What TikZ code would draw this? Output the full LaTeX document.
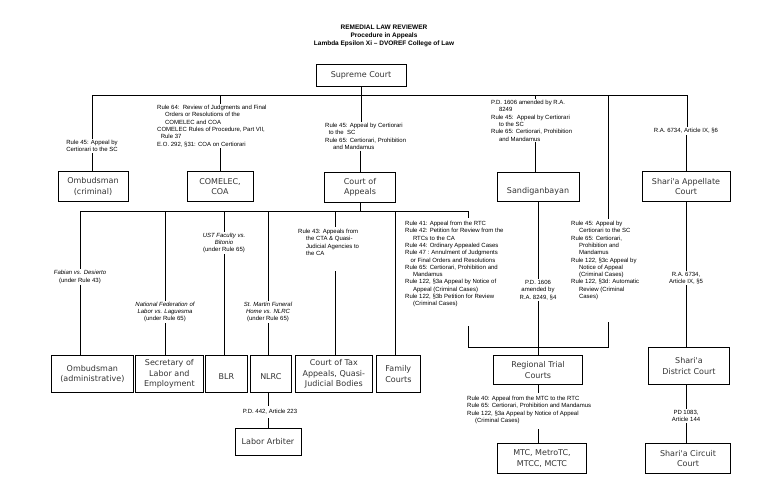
\documentclass[tikz,border=0pt]{standalone}
\usepackage{fontspec}
\setmainfont{Liberation Sans}
\newfontfamily\boxfont{DejaVu Sans}
\begin{document}
\begin{tikzpicture}[x=1pt,y=-1pt,
 box/.style={draw,line width=0.7pt,align=center,font=\boxfont\fontsize{8}{10.5}\selectfont,text=black!80,inner sep=2pt,anchor=north},
 lab/.style={align=center,font=\fontsize{6}{7.3}\selectfont,inner sep=1pt},
 labl/.style={align=left,font=\fontsize{6}{7.3}\selectfont,inner sep=1pt},
 ln/.style={line width=0.7pt}]
\useasboundingbox (0,0) rectangle (768,503);
\node[font=\bfseries\fontsize{6.5}{8}\selectfont,align=center] (title) at (384,36) {REMEDIAL LAW REVIEWER\\Procedure in Appeals\\\textsc{Lambda Epsilon Xi -- DVOREF College of Law}};
% boxes
\node[box,minimum width=90,minimum height=22] (sc) at (361,64) {Supreme Court};
\node[box,minimum width=70,minimum height=30] (omc) at (93,171) {Ombudsman\\(criminal)};
\node[box,minimum width=66,minimum height=30] (com) at (220,171) {COMELEC,\\COA};
\node[box,minimum width=71,minimum height=30] (ca) at (360,172) {Court of\\Appeals};
\node[box,minimum width=82,minimum height=29,text height=14] (sb) at (538,172) {Sandiganbayan};
\node[box,minimum width=88,minimum height=30] (sac) at (686,171) {Shari'a Appellate\\Court};
\node[box,minimum width=82,minimum height=37,anchor=north west] (oma) at (51,355) {Ombudsman\\(administrative)};
\node[box,minimum width=68,minimum height=37,anchor=north west] (sec) at (135,355) {Secretary of\\Labor and\\Employment};
\node[box,minimum width=42,minimum height=37,anchor=north west,text height=12] (blr) at (205,355) {BLR};
\node[box,minimum width=41,minimum height=37,anchor=north west,text height=12] (nlrc) at (250,355) {NLRC};
\node[box,minimum width=77,minimum height=37,anchor=north west] (cta) at (295,355) {Court of Tax\\Appeals, Quasi-\\Judicial Bodies};
\node[box,minimum width=44,minimum height=37,anchor=north west] (fam) at (376,355) {Family\\Courts};
\node[box,minimum width=89,minimum height=29] (rtc) at (538,355) {Regional Trial\\Courts};
\node[box,minimum width=81,minimum height=37] (sdc) at (689,347) {Shari'a\\District Court};
\node[box,minimum width=89,minimum height=30] (mtc) at (542,443) {MTC, MetroTC,\\MTCC, MCTC};
\node[box,minimum width=85,minimum height=30] (scc) at (688,443) {Shari'a Circuit\\Court};
\node[box,minimum width=66,minimum height=27] (la) at (268,428) {Labor Arbiter};
% labels
\node[lab] (l1) at (92,146) {Rule 45: Appeal by\\Certiorari to the SC};
\node[labl,anchor=north west] (l2) at (156,104) {Rule 64:\ \ Review of Judgments and Final\\\hspace*{1.3em}Orders or Resolutions of the\\\hspace*{1.3em}COMELEC and COA\\COMELEC Rules of Procedure, Part VII,\\\hspace*{0.6em}Rule 37\\E.O. 292, \S31: COA on Certiorari};
\node[labl,anchor=north west] (l3) at (324,122) {Rule 45: Appeal by Certiorari\\\hspace*{0.6em}to the\ \ SC\\Rule 65: Certiorari, Prohibition\\\hspace*{1.3em}and Mandamus};
\node[labl,anchor=north west] (l4) at (490,99) {P.D. 1606 amended by R.A.\\\hspace*{1.3em}8249\\Rule 45:\ \ Appeal by Certiorari\\\hspace*{1.3em}to the SC\\Rule 65: Certiorari, Prohibition\\\hspace*{1.3em}and Mandamus};
\node[lab] (l5) at (686,131) {R.A. 6734, Article IX, \S6};
\node[lab,font=\itshape\fontsize{6}{7.3}\selectfont] (l6) at (80,277) {Fabian vs. Desierto\\\upshape(under Rule 43)};
\node[lab,font=\itshape\fontsize{6}{7.3}\selectfont] (l7) at (165,312) {National Federation of\\Labor vs. Laguesma\\\upshape(under Rule 65)};
\node[lab,font=\itshape\fontsize{6}{7.3}\selectfont] (l8) at (224,243) {UST Faculty vs.\\Bitonio\\\upshape(under Rule 65)};
\node[lab,font=\itshape\fontsize{6}{7.3}\selectfont] (l9) at (268,312) {St. Martin Funeral\\Home vs. NLRC\\\upshape(under Rule 65)};
\node[labl,anchor=north west] (l10) at (297,228) {Rule 43: Appeals from\\\hspace*{1.3em}the CTA \& Quasi-\\\hspace*{1.3em}Judicial Agencies to\\\hspace*{1.3em}the CA};
\node[labl,anchor=north west] (l11) at (404,220) {Rule 41: Appeal from the RTC\\Rule 42: Petition for Review from the\\\hspace*{1.3em}RTCs to the CA\\Rule 44: Ordinary Appealed Cases\\Rule 47 : Annulment of Judgments\\\hspace*{0.9em}or Final Orders and Resolutions\\Rule 65: Certiorari, Prohibition and\\\hspace*{1.3em}Mandamus\\Rule 122, \S3a Appeal by Notice of\\\hspace*{1.3em}Appeal (Criminal Cases)\\Rule 122, \S3b Petition for Review\\\hspace*{1.3em}(Criminal Cases)};
\node[lab] (l12) at (538,290) {P.D. 1606\\amended by\\R.A. 8249, \S4};
\node[labl,anchor=north west] (l13) at (570,220) {Rule 45: Appeal by\\\hspace*{1.3em}Certiorari to the SC\\Rule 65: Certiorari,\\\hspace*{1.3em}Prohibition and\\\hspace*{1.3em}Mandamus\\Rule 122, \S3c Appeal by\\\hspace*{1.3em}Notice of Appeal\\\hspace*{1.3em}(Criminal Cases)\\Rule 122, \S3d: Automatic\\\hspace*{1.3em}Review (Criminal\\\hspace*{1.3em}Cases)};
\node[lab] (l14) at (686,278) {R.A. 6734,\\Article IX, \S5};
\node[labl,anchor=north west] (l15) at (466,395) {Rule 40: Appeal from the MTC to the RTC\\Rule 65: Certiorari, Prohibition and Mandamus\\Rule 122, \S3a Appeal by Notice of Appeal\\\hspace*{1.3em}(Criminal Cases)};
\node[lab] (l16) at (686,416) {PD 1083,\\Article 144};
\node[lab] (l17) at (270,412) {P.D. 442, Article 223};
% top bus
\coordinate (ta) at (92,95); \coordinate (tb) at (687,95);
\coordinate (t1) at (220,95); \coordinate (t2) at (535,95); \coordinate (t3) at (608,95);
\draw[ln] (ta) -- (tb);
\draw[ln] (sc.south) -- (l3.north -| sc.south);
\draw[ln] (ta) -- (l1.north);
\draw[ln] (l1.south) -- (omc.north -| l1.south);
\draw[ln] (t1) -- (l2.north -| t1);
\draw[ln] (l2.south -| com.north) -- (com.north);
\draw[ln] (l3.south -| ca.north) -- (ca.north);
\draw[ln] (t2) -- (l4.north -| t2);
\draw[ln] (l4.south -| t2) -- (t2 |- sb.north);
\draw[ln] (tb) -- (l5.north -| tb);
\draw[ln] (l5.south -| sac.north) -- (sac.north);
% CA bus
\coordinate (ba) at (80,211); \coordinate (bb) at (468,211);
\draw[ln] (ca.south) -- (ca.south |- ba);
\draw[ln] (ba) -- (bb);
\draw[ln] (ba) -- (l6.north);
\draw[ln] (l6.south) -- (l6.south |- oma.north);
\draw[ln] (165,211) -- (l7.north);
\draw[ln] (l7.south) -- (l7.south |- sec.north);
\draw[ln] (224,211) -- (l8.north);
\draw[ln] (l8.south) -- (l8.south |- blr.north);
\draw[ln] (268,211) -- (l9.north);
\draw[ln] (l9.south) -- (l9.south |- nlrc.north);
\draw[ln] (335,211) -- (335,227);
\draw[ln] (335,271) -- (335,355);
\draw[ln] (395,211) -- (395,355);
\draw[ln] (bb) -- (468,218);
% RTC bracket
\coordinate (ra) at (468,347); \coordinate (rb) at (608,347);
\draw[ln] (468,326) -- (ra) -- (rb) -- (608,322);
\draw[ln] (t3) -- (608,219);
\draw[ln] (sb.south) -- (l12.north);
\draw[ln] (l12.south) -- (rtc.north);
\draw[ln] (sac.south -| l14.north) -- (l14.north);
\draw[ln] (l14.south) -- (l14.south |- sdc.north);
\draw[ln] (rtc.south) -- (538,393);
\draw[ln] (538,429) -- (538,443);
\draw[ln] (l16.north |- sdc.south) -- (l16.north);
\draw[ln] (l16.south) -- (l16.south |- scc.north);
\draw[ln] (268,392) -- (268,406);
\draw[ln] (268,418) -- (la.north);
\end{tikzpicture}
\end{document}
